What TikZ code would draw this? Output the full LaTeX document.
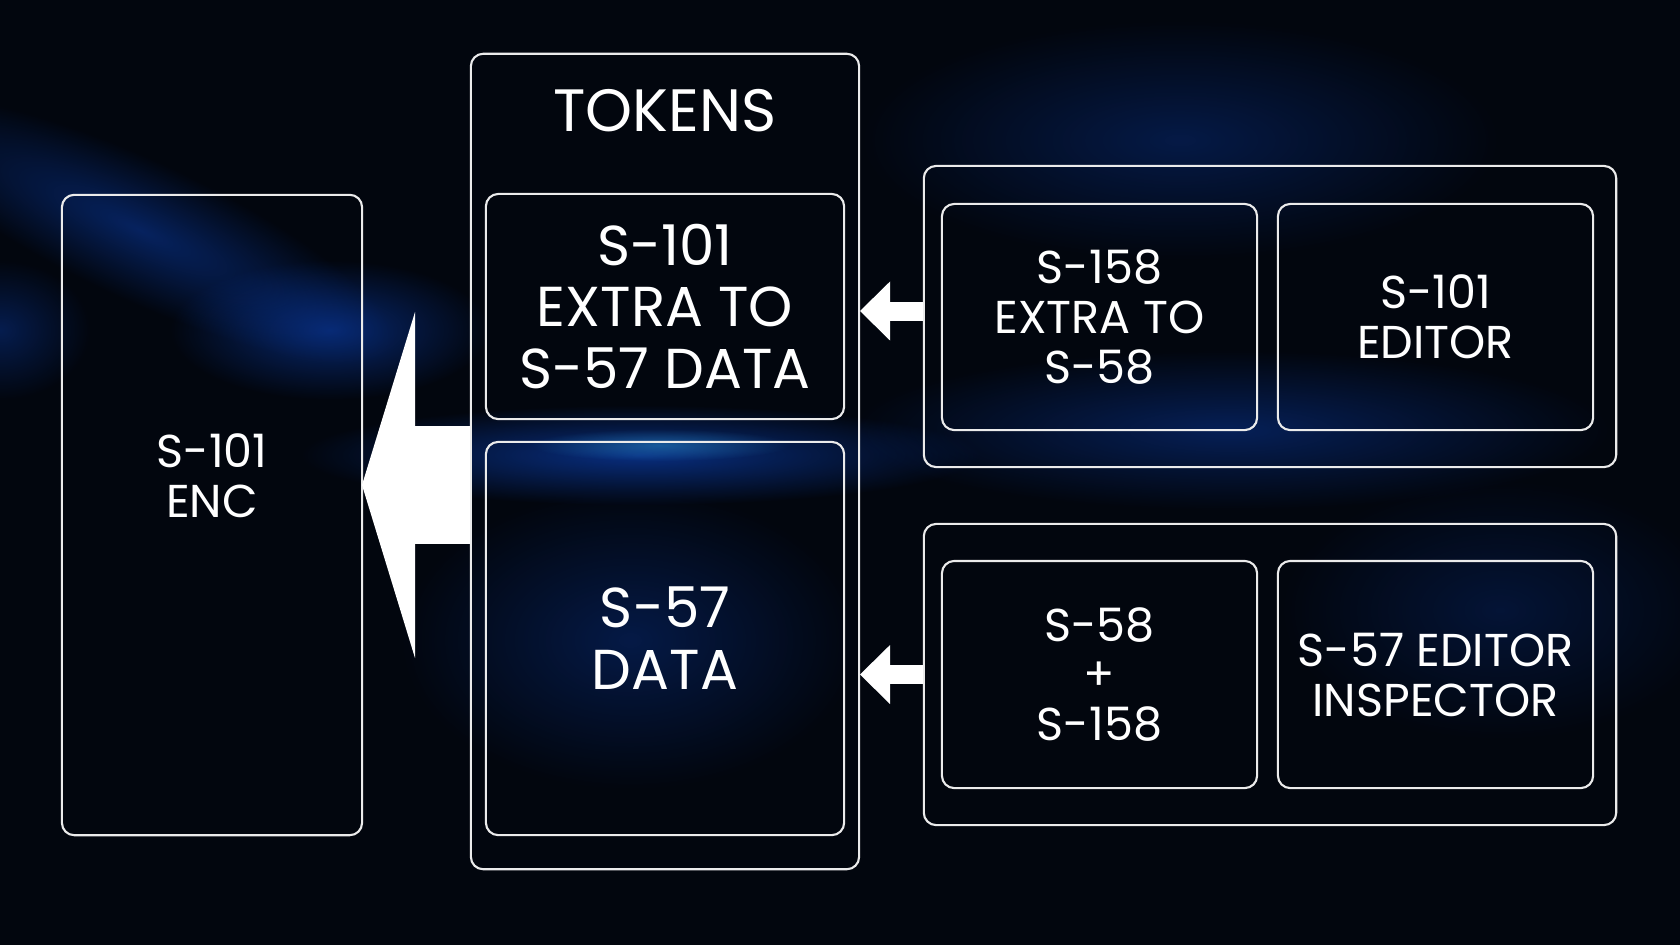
\documentclass[tikz,border=0pt]{standalone}
\usepackage{fontspec}
\setmainfont{Poppins}
\usetikzlibrary{arrows.meta,fadings}

\definecolor{bgnavy}{HTML}{02060E}
\definecolor{glowblue}{HTML}{0B3FB0}
\definecolor{glowcyan}{HTML}{2F9AD8}

\tikzfading[name=glow, inner color=transparent!0, outer color=transparent!100]

\tikzset{
	box/.style={draw=white!92!black, line width=0.6pt, rounded corners=3.5pt,
		inner sep=0pt, text=white, align=center},
	titletxt/.style={font=\fontsize{17}{18}\selectfont},
	bigtxt/.style={font=\fontsize{16}{17.6}\selectfont},
	smalltxt/.style={font=\fontsize{13.1}{14.2}\selectfont},
	haze/.style={fill=glowblue, path fading=glow, fill opacity=#1},
	flow/.style={white, line width=#1},
}

\begin{document}
\begin{tikzpicture}[x=0.01cm, y=-0.01cm]

	% background
	\fill[bgnavy] (0,0) rectangle (1680,945);
	\useasboundingbox (0,0) rectangle (1680,945);

	% blue haze
	\begin{scope}[transform canvas={rotate around={-25:(140,230)}}]
		\fill[haze=0.5] (140,230) ellipse [x radius=280, y radius=70];
	\end{scope}
	\fill[haze=0.6] (330,330) ellipse [x radius=160, y radius=70];
	\fill[haze=0.7] (640,455) ellipse [x radius=340, y radius=50];
	\fill[haze=0.45, fill=glowcyan] (660,445) ellipse [x radius=130, y radius=16];
	\fill[haze=0.35] (630,640) ellipse [x radius=230, y radius=150];
	\fill[haze=0.35] (1180,140) ellipse [x radius=320, y radius=120];
	\fill[haze=0.45] (1230,430) ellipse [x radius=380, y radius=80];
	\fill[haze=0.25] (1500,610) ellipse [x radius=220, y radius=130];
	\fill[haze=0.4] (0,330) ellipse [x radius=90, y radius=70];

	% left box
	\node[box, minimum width=3.00cm, minimum height=6.40cm] (enc) at (212,515) {};
	\node[text=white, align=center, smalltxt] (enctxt) at (212,476) {S-101\\ENC};

	% tokens column
	\node[box, minimum width=3.88cm, minimum height=8.15cm] (tokens) at (665,461.5) {};
	\node[text=white, titletxt] (tokenstitle) at (665,111) {TOKENS};
	\node[box, bigtxt, minimum width=3.58cm, minimum height=2.25cm] (extra) at (665,306.5)
		{S-101\\EXTRA TO\\S-57 DATA};
	\node[box, bigtxt, minimum width=3.58cm, minimum height=3.93cm] (s57) at (665,638.5)
		{S-57\\DATA};

	% right groups
	\node[box, minimum width=6.92cm, minimum height=3.01cm] (grpA) at (1270,316.5) {};
	\node[box, smalltxt, minimum width=3.15cm, minimum height=2.26cm] (s158) at (1099.5,317)
		{S-158\\EXTRA TO\\S-58};
	\node[box, smalltxt, minimum width=3.15cm, minimum height=2.26cm] (ed101) at (1435.5,317)
		{S-101\\EDITOR};

	\node[box, minimum width=6.92cm, minimum height=3.01cm] (grpB) at (1270,674.5) {};
	\node[box, smalltxt, minimum width=3.15cm, minimum height=2.27cm] (s58) at (1099.5,674.5)
		{S-58\\+\\S-158};
	\node[box, smalltxt, minimum width=3.15cm, minimum height=2.27cm] (insp) at (1435.5,674.5)
		{S-57 EDITOR\\INSPECTOR};

	% arrows
	\coordinate (bigtip) at (362,485);
	\coordinate (tipA) at (860,311);
	\coordinate (tipB) at (860,674.5);

	\draw[flow=1.17cm, -{Triangle[length=0.53cm, width=3.46cm, line width=0pt]}]
		(tokens.west |- bigtip) -- (bigtip);
	\draw[flow=0.19cm, -{Triangle[length=0.30cm, width=0.59cm, line width=0pt]}]
		(grpA.west |- tipA) -- (tipA);
	\draw[flow=0.19cm, -{Triangle[length=0.30cm, width=0.59cm, line width=0pt]}]
		(grpB.west |- tipB) -- (tipB);

\end{tikzpicture}
\end{document}
